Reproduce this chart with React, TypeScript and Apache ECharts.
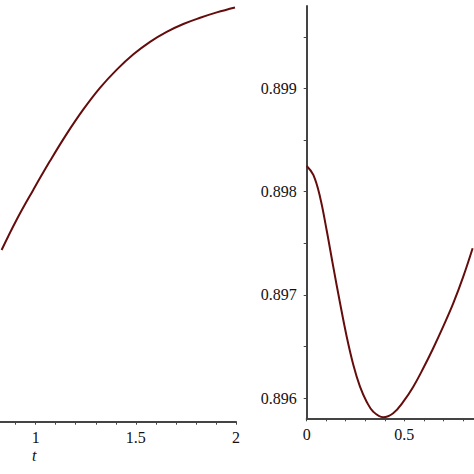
import { useEffect, useRef } from 'react'
import * as echarts from 'echarts'

// left panel: t from ~0.82 to 2 (its vertical scale is off-picture, kept relative)
const leftT = [0.83, 0.905, 0.988, 1.072, 1.155, 1.238, 1.321, 1.405, 1.488, 1.571, 1.654, 1.737, 1.821, 1.904, 1.995]
const leftV = [0.414, 0.487, 0.559, 0.629, 0.694, 0.753, 0.805, 0.849, 0.886, 0.916, 0.94, 0.959, 0.974, 0.987, 0.999]

// right panel: t from 0 to ~0.85
const rightT = [0, 0.034, 0.068, 0.102, 0.136, 0.171, 0.205, 0.239, 0.273, 0.307, 0.341, 0.392, 0.443, 0.495, 0.546, 0.597, 0.648, 0.699, 0.751, 0.802, 0.85]
const rightV = [0.898249, 0.898162, 0.897952, 0.897629, 0.897274, 0.89692, 0.896596, 0.896322, 0.896112, 0.895967, 0.89587, 0.895816, 0.895855, 0.895967, 0.896112, 0.89629, 0.896484, 0.896693, 0.89692, 0.897177, 0.897452]

const leftTicks = [0.9, 1.0, 1.1, 1.2, 1.3, 1.4, 1.5, 1.6, 1.7, 1.8, 1.9, 2.0]
const leftLabels = [1, 1.5, 2]
const rightXTicks = [0, 0.1, 0.2, 0.3, 0.4, 0.5, 0.6, 0.7, 0.8]
const rightXLabels = [0, 0.5]
const rightYTicks = [0.896, 0.8965, 0.897, 0.8975, 0.898, 0.8985, 0.899, 0.8995]
const rightYLabels = [0.896, 0.897, 0.898, 0.899]

const AXIS = '#444'
const CURVE = '#650d0d'
const FONT = "'Liberation Serif', 'Times New Roman', 'DejaVu Serif', serif"

export default function App() {
  const ref = useRef<HTMLDivElement>(null)

  useEffect(() => {
    if (!ref.current) return
    const chart = echarts.init(ref.current, null, { renderer: 'svg' })
    const axisLine = { lineStyle: { color: AXIS, width: 2 } }
    const tick = (vals: number[]) => ({ customValues: vals, length: 3, lineStyle: { color: AXIS, width: 1 } })
    const label = (vals: number[], margin: number, fmt: (v: number) => string) => ({
      customValues: vals, margin, color: '#111', fontSize: 16, fontFamily: FONT, formatter: fmt,
    })
    chart.setOption({
      animation: false,
      backgroundColor: '#fff',
      textStyle: { fontFamily: FONT },
      grid: [
        { left: 0, top: 7, width: 236, height: 414.7 },
        { left: 306.7, top: 6, width: 167.3, height: 412.3 },
      ],
      xAxis: [
        {
          type: 'value', gridIndex: 0, min: 0.822, max: 2,
          axisLine, axisTick: tick(leftTicks),
          axisLabel: label(leftLabels, 8, (v: number) => String(+v.toFixed(1))),
          splitLine: { show: false },
        },
        {
          type: 'value', gridIndex: 1, min: 0, max: 0.857,
          axisLine, axisTick: tick(rightXTicks),
          axisLabel: label(rightXLabels, 8, (v: number) => String(+v.toFixed(1))),
          splitLine: { show: false },
        },
      ],
      yAxis: [
        { type: 'value', gridIndex: 0, min: 0, max: 1, show: false },
        {
          type: 'value', gridIndex: 1, min: 0.895806, max: 0.899798,
          axisLine: { show: true, ...axisLine }, axisTick: { show: true, ...tick(rightYTicks) },
          axisLabel: label(rightYLabels, 10, (v: number) => v.toFixed(3)),
          splitLine: { show: false },
        },
      ],
      series: [
        {
          type: 'line', xAxisIndex: 0, yAxisIndex: 0, smooth: 0.4, showSymbol: false,
          lineStyle: { color: CURVE, width: 2 },
          data: leftT.map((t, i) => [t, leftV[i]]),
        },
        {
          type: 'line', xAxisIndex: 1, yAxisIndex: 1, smooth: 0.4, showSymbol: false,
          lineStyle: { color: CURVE, width: 2 },
          data: rightT.map((t, i) => [t, rightV[i]]),
        },
      ],
      graphic: [
        {
          type: 'text', left: 32, top: 447,
          style: { text: 't', font: `italic 16px ${FONT}`, fill: '#111' },
        },
      ],
    })
    return () => chart.dispose()
  }, [])

  return <div ref={ref} style={{ position: 'absolute', left: 0, top: 0, width: 474, height: 474 }} />
}
